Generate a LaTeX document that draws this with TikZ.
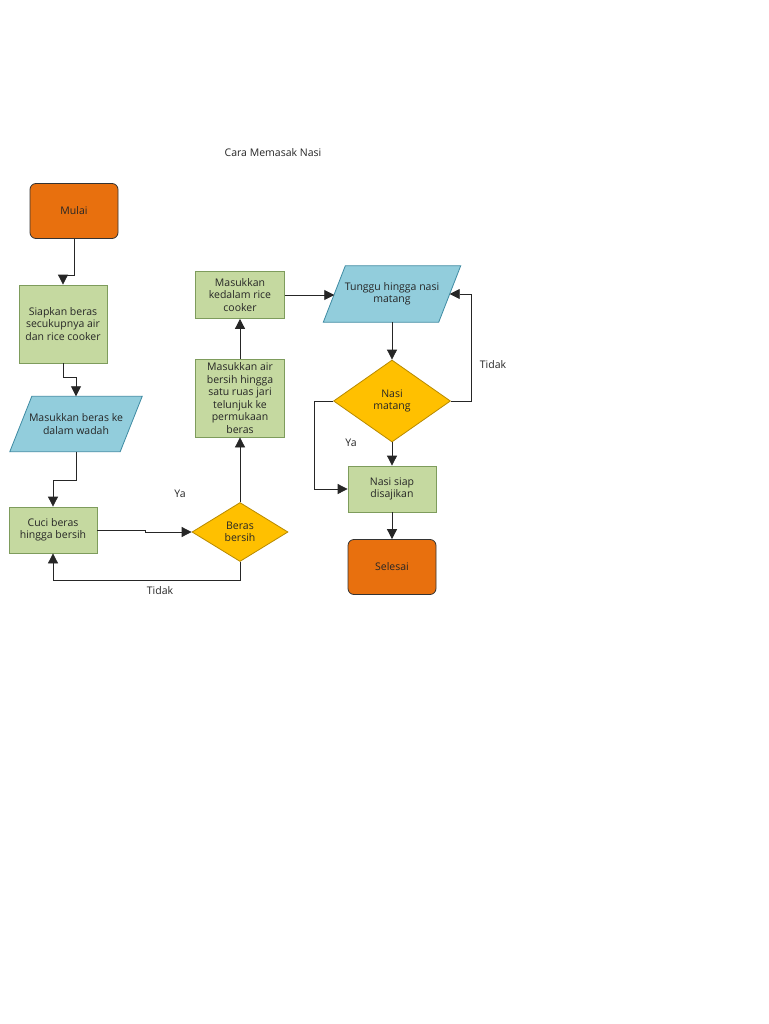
\documentclass[tikz,border=0pt]{standalone}
\usepackage{fontspec}
\setmainfont{Open Sans}
\usetikzlibrary{shapes.geometric,arrows.meta}
\definecolor{org}{HTML}{E8700E}
\definecolor{grn}{HTML}{C5D9A0}
\definecolor{grnb}{HTML}{7E9C5C}
\definecolor{blu}{HTML}{92CDDC}
\definecolor{blub}{HTML}{3F8BA3}
\definecolor{yel}{HTML}{FFC000}
\definecolor{yelb}{HTML}{B88A00}
\tikzset{
 every node/.style={font=\fontsize{10.5}{12.5}\selectfont, align=center, text=black!85},
 term/.style={draw=black!80, fill=org, rounded corners=6pt, minimum width=88pt, minimum height=55pt, line width=0.8pt},
 proc/.style={draw=grnb, fill=grn, minimum width=88pt, line width=0.8pt, inner sep=1pt},
 io/.style={minimum height=55pt, inner sep=0pt},
 dec/.style={diamond, aspect=1.6, draw=yelb, fill=yel, inner sep=0pt, line width=0.8pt},
 conn/.style={draw=black!85, line width=0.8pt, -{Triangle[length=10pt,width=10pt]}},
 lbl/.style={font=\fontsize{10.5}{12.5}\selectfont}
}
\begin{document}
\begin{tikzpicture}[x=1pt,y=-1pt]
\useasboundingbox[fill=white] (0,0) rectangle (768,1024);
\node[lbl] (title) at (273,153) {Cara Memasak Nasi};
\node[term] (mulai) at (74,211) {Mulai};
\node[proc, minimum height=78pt] (siap) at (63,324) {Siapkan beras\\secukupnya air\\dan rice cooker};
\node[io, minimum width=110pt] (wadah) at (76,424) {};
\fill[blu, draw=blub, line width=0.8pt] ([xshift=11pt]wadah.north west) -- ([xshift=11pt]wadah.north east) -- ([xshift=-11pt]wadah.south east) -- ([xshift=-11pt]wadah.south west) -- cycle;
\node (wadaht) at (76,424) {Masukkan beras ke\\dalam wadah};
\node[proc, minimum height=46pt] (cuci) at (53,530) {Cuci beras\\hingga bersih};
\node[dec, minimum width=96pt, minimum height=59pt] (bersih) at (240,532) {Beras\\bersih};
\node[proc, minimum width=89pt, minimum height=78pt] (air) at (240,398) {Masukkan air\\bersih hingga\\satu ruas jari\\telunjuk ke\\permukaan\\beras};
\node[proc, minimum width=89pt, minimum height=47pt] (ked) at (240,295) {Masukkan\\kedalam rice\\cooker};
\node[io, minimum width=115pt, minimum height=56pt] (tunggu) at (392,294) {};
\fill[blu, draw=blub, line width=0.8pt] ([xshift=11pt]tunggu.north west) -- ([xshift=11pt]tunggu.north east) -- ([xshift=-11pt]tunggu.south east) -- ([xshift=-11pt]tunggu.south west) -- cycle;
\node (tunggut) at (392,294) {Tunggu hingga nasi\\matang};
\node[dec, minimum width=117pt, minimum height=82pt] (matang) at (392,401) {Nasi\\matang};
\node[proc, minimum height=46pt] (sajikan) at (392,489) {Nasi siap\\disajikan};
\node[term] (selesai) at (392,567) {Selesai};
\node[lbl] (ya1) at (180,494) {Ya};
\node[lbl] (td1) at (160,591) {Tidak};
\node[lbl] (td2) at (493,365) {Tidak};
\node[lbl] (ya2) at (351,443) {Ya};
\draw[conn] (mulai.south) -- ++(0,36) -| (siap.north);
\draw[conn] (siap.south) -- ++(0,14) -| (wadah.north);
\draw[conn] (wadah.south) -- ++(0,29) -| (cuci.north);
\draw[conn] (cuci.east) -- (145,530) -- (145,532) -- (bersih.west);
\draw[conn] (bersih.south) -- ++(0,18) -| (cuci.south);
\draw[conn] (bersih.north) -- (air.south);
\draw[conn] (air.north) -- (ked.south);
\draw[conn] (ked.east) -- (ked.east -| tunggu.west);
\draw[conn] (tunggu.south) -- (matang.north);
\draw[conn] (matang.east) -- ++(20,0) |- (tunggu.east);
\draw[conn] (matang.west) -- ++(-19,0) |- (sajikan.west);
\draw[conn] (matang.south) -- (sajikan.north);
\draw[conn] (sajikan.south) -- (selesai.north);
\end{tikzpicture}
\end{document}
